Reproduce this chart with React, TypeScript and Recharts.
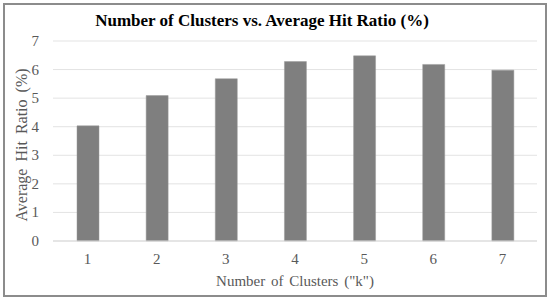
import React from "react";
import { BarChart, Bar, XAxis, YAxis, CartesianGrid } from "recharts";

const clusters = ["1", "2", "3", "4", "5", "6", "7"];
const hitRatio = [4.03, 5.09, 5.68, 6.28, 6.48, 6.18, 5.98];
const yTicks = [0, 1, 2, 3, 4, 5, 6, 7];

const data = clusters.map((k, i) => ({ k, v: hitRatio[i] }));

const FONT = "'Liberation Serif', 'Times New Roman', serif";
const txt = { fontFamily: FONT };

const XTick = (props: any) => {
  const { x, y, payload } = props;
  return (
    <text x={x} y={y + 17} textAnchor="middle" fill="#595959" fontSize={15} style={txt}>
      {payload.value}
    </text>
  );
};

const YTick = (props: any) => {
  const { x, y, payload } = props;
  return (
    <text x={x} y={y + 5} textAnchor="end" fill="#595959" fontSize={15} style={txt}>
      {payload.value}
    </text>
  );
};

export default function App() {
  return (
    <div style={{ position: "absolute", left: 0, top: 0, width: 550, height: 302, background: "#fff", fontFamily: FONT }}>
      <div
        style={{
          position: "absolute",
          left: 3,
          top: 3,
          width: 540,
          height: 290,
          border: "2px solid #8c8c8c",
        }}
      />
      <div
        style={{
          position: "absolute",
          left: 0,
          top: 11,
          width: 524,
          textAlign: "center",
          fontFamily: FONT,
          fontWeight: "bold",
          fontSize: 17,
          color: "#000",
        }}
      >
        Number of Clusters vs. Average Hit Ratio (%)
      </div>
      <div style={{ position: "absolute", left: 0, top: 0 }}>
        <BarChart
          width={550}
          height={302}
          data={data}
          style={{ fontFamily: FONT }}
          margin={{ top: 41, right: 13, bottom: 31, left: 0 }}
        >
          <CartesianGrid vertical={false} stroke="#e3e3e3" strokeWidth={1} />
          <XAxis
            dataKey="k"
            height={30}
            tickLine={false}
            axisLine={{ stroke: "#d9d9d9" }}
            tickMargin={0}
            tick={<XTick />}
          />
          <YAxis
            width={53}
            domain={[0, 7]}
            ticks={yTicks}
            interval={0}
            tickLine={false}
            axisLine={false}
            tickMargin={8}
            tick={<YTick />}
          />
          <Bar dataKey="v" fill="#7f7f7f" stroke="#9a9a9a" strokeWidth={0.5} barSize={22} isAnimationActive={false} />
          <text x={295} y={286} textAnchor="middle" fill="#595959" fontSize={15} style={{ ...txt, wordSpacing: 2 }}>
            Number of Clusters ("k")
          </text>
          <text
            x={0}
            y={0}
            transform="translate(27, 145) rotate(-90)"
            textAnchor="middle"
            fill="#595959"
            fontSize={16}
            style={{ ...txt, wordSpacing: 3 }}
          >
            Average Hit Ratio (%)
          </text>
        </BarChart>
      </div>
    </div>
  );
}
